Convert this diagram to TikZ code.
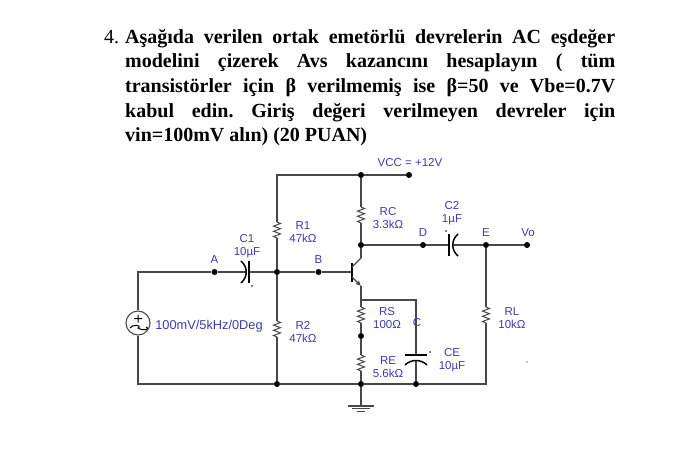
\documentclass[tikz,border=0pt]{standalone}
\usepackage{fontspec}
\setmainfont{Liberation Serif}
\setsansfont{Liberation Sans}
\usetikzlibrary{arrows.meta}
\definecolor{wirecol}{RGB}{72,72,72}
\definecolor{labcol}{RGB}{62,58,170}
\tikzset{
  wire/.style={draw=wirecol,line width=1.1pt},
  plate/.style={draw=black,line width=1.5pt},
  dot/.style={circle,fill=black,inner sep=0pt,minimum size=6pt},
  lab/.style={text=labcol,font=\sffamily\fontsize{11.5}{12.8}\selectfont,align=center,inner sep=0pt},
  res/.style={minimum width=10pt,minimum height=16pt,inner sep=0pt,
    path picture={\draw[draw=wirecol,line width=1pt] (path picture bounding box.north) -- ++(3.5,1.5) -- ++(-7,2.6) -- ++(7,2.6) -- ++(-7,2.6) -- ++(7,2.6) -- ++(-7,2.6) -- ++(3.5,1.5);}},
  src/.style={circle,draw=wirecol,line width=1.1pt,minimum size=24pt,inner sep=0pt,
    path picture={\draw[draw=black,line width=1pt] (path picture bounding box.center) ++(-4,-4.5) -- ++(8,0) ++(-4,-4) -- ++(0,8)
      (path picture bounding box.center) ++(-8,5) .. controls +(2,-4) and +(5,-3) .. ++(8,0) .. controls +(3,3) and +(6,3) .. ++(8,-1);}}
}
\begin{document}
\begin{tikzpicture}[x=1pt,y=-1pt]
  \useasboundingbox (0,0) rectangle (700,474);

  % question text
  \node[anchor=base west,inner sep=0pt,font=\fontsize{20}{24.6}\selectfont] (num) at (104,43) {4.};
  \node[anchor=north west,inner sep=0pt,text width=490pt,align=justify,font=\frenchspacing\bfseries\fontsize{20}{24.6}\selectfont] (title) at (125,29)
    {Aşağıda verilen ortak emetörlü devrelerin AC eşdeğer\linebreak
     modelini çizerek Avs kazancını hesaplayın ( tüm\linebreak
     transistörler için β verilmemiş ise β=50 ve Vbe=0.7V\linebreak
     kabul edin. Giriş değeri verilmeyen devreler için\linebreak
     vin=100mV alın) (20 PUAN)};

  % junctions and terminals
  \node[dot] (A) at (214.5,272) {};
  \node[dot] (jb) at (277,272) {};
  \node[dot] (B) at (318.5,272) {};
  \node[dot] (jtop) at (361,175) {};
  \node[dot] (vcc) at (409,175) {};
  \node[dot] (jc) at (361,245) {};
  \node[dot] (D) at (423,245) {};
  \node[dot] (E) at (486,245) {};
  \node[dot] (vo) at (527,245) {};
  \node[dot] (jm) at (361,336) {};
  \node[dot] (jr2) at (277,384) {};
  \node[dot] (jgnd) at (361,384) {};
  \node[dot] (jce) at (416,384) {};

  % parts
  \node[src] (vin) at (138,323) {};
  \node[res] (R1) at (277,230) {};
  \node[res] (R2) at (277,329) {};
  \node[res] (RC) at (361,215) {};
  \node[res] (RS) at (361,315) {};
  \node[res] (RE) at (361,363) {};
  \node[res] (RL) at (486,315) {};

  \coordinate (c1a) at (246,272);
  \coordinate (c1b) at (249,272);
  \coordinate (c2a) at (449,245);
  \coordinate (c2b) at (452,245);
  \coordinate (cea) at (416,355);
  \coordinate (ceb) at (416,360);
  \coordinate (tbase) at (352,272);
  \coordinate (tcol) at (361,258);
  \coordinate (tem) at (361,286);
  \coordinate (jrs) at (361,300);
  \coordinate (gnd) at (361,407);

  % wires
  \draw[wire] (vin) |- (A);
  \draw[wire] (A) -- (c1a);
  \draw[wire] (c1b) -- (jb);
  \draw[wire] (jb) -- (B);
  \draw[wire] (B) -- (tbase);
  \draw[wire] (jb) -- (R1);
  \draw[wire] (R1) |- (jtop);
  \draw[wire] (jtop) -- (vcc);
  \draw[wire] (jtop) -- (RC);
  \draw[wire] (RC) -- (jc);
  \draw[wire] (jc) -- (D);
  \draw[wire] (D) -- (c2a);
  \draw[wire] (c2b) -- (E);
  \draw[wire] (E) -- (vo);
  \draw[wire] (E) -- (RL);
  \draw[wire] (RL) |- (jce);
  \draw[wire] (jb) -- (R2);
  \draw[wire] (R2) -- (jr2);
  \draw[wire] (vin) |- (jr2);
  \draw[wire] (jr2) -- (jgnd);
  \draw[wire] (jgnd) -- (jce);
  \draw[wire] (jgnd) -- (gnd);
  \draw[wire] (jc) -- (tcol);
  \draw[wire] (tem) -- (jrs);
  \draw[wire] (jrs) -- (RS);
  \draw[wire] (RS) -- (jm);
  \draw[wire] (jm) -- (RE);
  \draw[wire] (RE) -- (jgnd);
  \draw[wire] (jrs) -| (cea);
  \draw[wire] (ceb) -- (jce);

  % transistor
  \draw[plate] (352,263) -- (352,282);
  \draw[wire] (352,267) -- (tcol);
  \draw[wire,-{Latex[length=5pt,width=5pt]}] (352,277) -- (tem);

  % capacitor plates
  \draw[plate] (c1b) +(0,-11) -- +(0,11);
  \draw[plate] (241,261) .. controls (248,267) and (248,277) .. (241,283);
  \draw[plate] (c2a) +(0,-11) -- +(0,11);
  \draw[plate] (458,234) .. controls (451,240) and (451,250) .. (458,256);
  \draw[plate] (cea) +(-11,0) -- +(11,0);
  \draw[plate] (405,365) .. controls (411,359) and (421,359) .. (427,365);
  \fill (252,286) circle (.9);
  \fill (446,231) circle (.9);
  \fill (430,352) circle (.9);
  \fill (527,362) circle (.7);

  % ground
  \draw[wire] (348,406) -- (374,406);
  \draw[wire,line width=.8pt] (352,408.5) -- (370,408.5);
  \draw[wire,line width=.8pt] (357,411) -- (365,411);

  % labels
  \node[lab] (lA) at (214.5,260) {A};
  \node[lab] (lB) at (318.5,260) {B};
  \node[lab] (lD) at (423,233) {D};
  \node[lab] (lE) at (486,233) {E};
  \node[lab] (lvo) at (528,233) {Vo};
  \node[lab] (lvcc) at (410,163) {VCC = +12V};
  \node[lab] (lc1) at (247,246) {C1\\10µF};
  \node[lab] (lr1) at (303,232) {R1\\47kΩ};
  \node[lab] (lr2) at (303,332) {R2\\47kΩ};
  \node[lab] (lrc) at (388,218) {RC\\3.3kΩ};
  \node[lab] (lc2) at (452,213) {C2\\1µF};
  \node[lab] (lrs) at (387,318) {RS\\100Ω};
  \node[lab] (lC) at (417,323) {C};
  \node[lab] (lre) at (388,367) {RE\\5.6kΩ};
  \node[lab] (lce) at (452,360) {CE\\10µF};
  \node[lab] (lrl) at (512,318) {RL\\10kΩ};
  \node[lab,font=\sffamily\fontsize{12.8}{13}\selectfont] (lvin) at (209,326) {100mV/5kHz/0Deg};
\end{tikzpicture}
\end{document}
